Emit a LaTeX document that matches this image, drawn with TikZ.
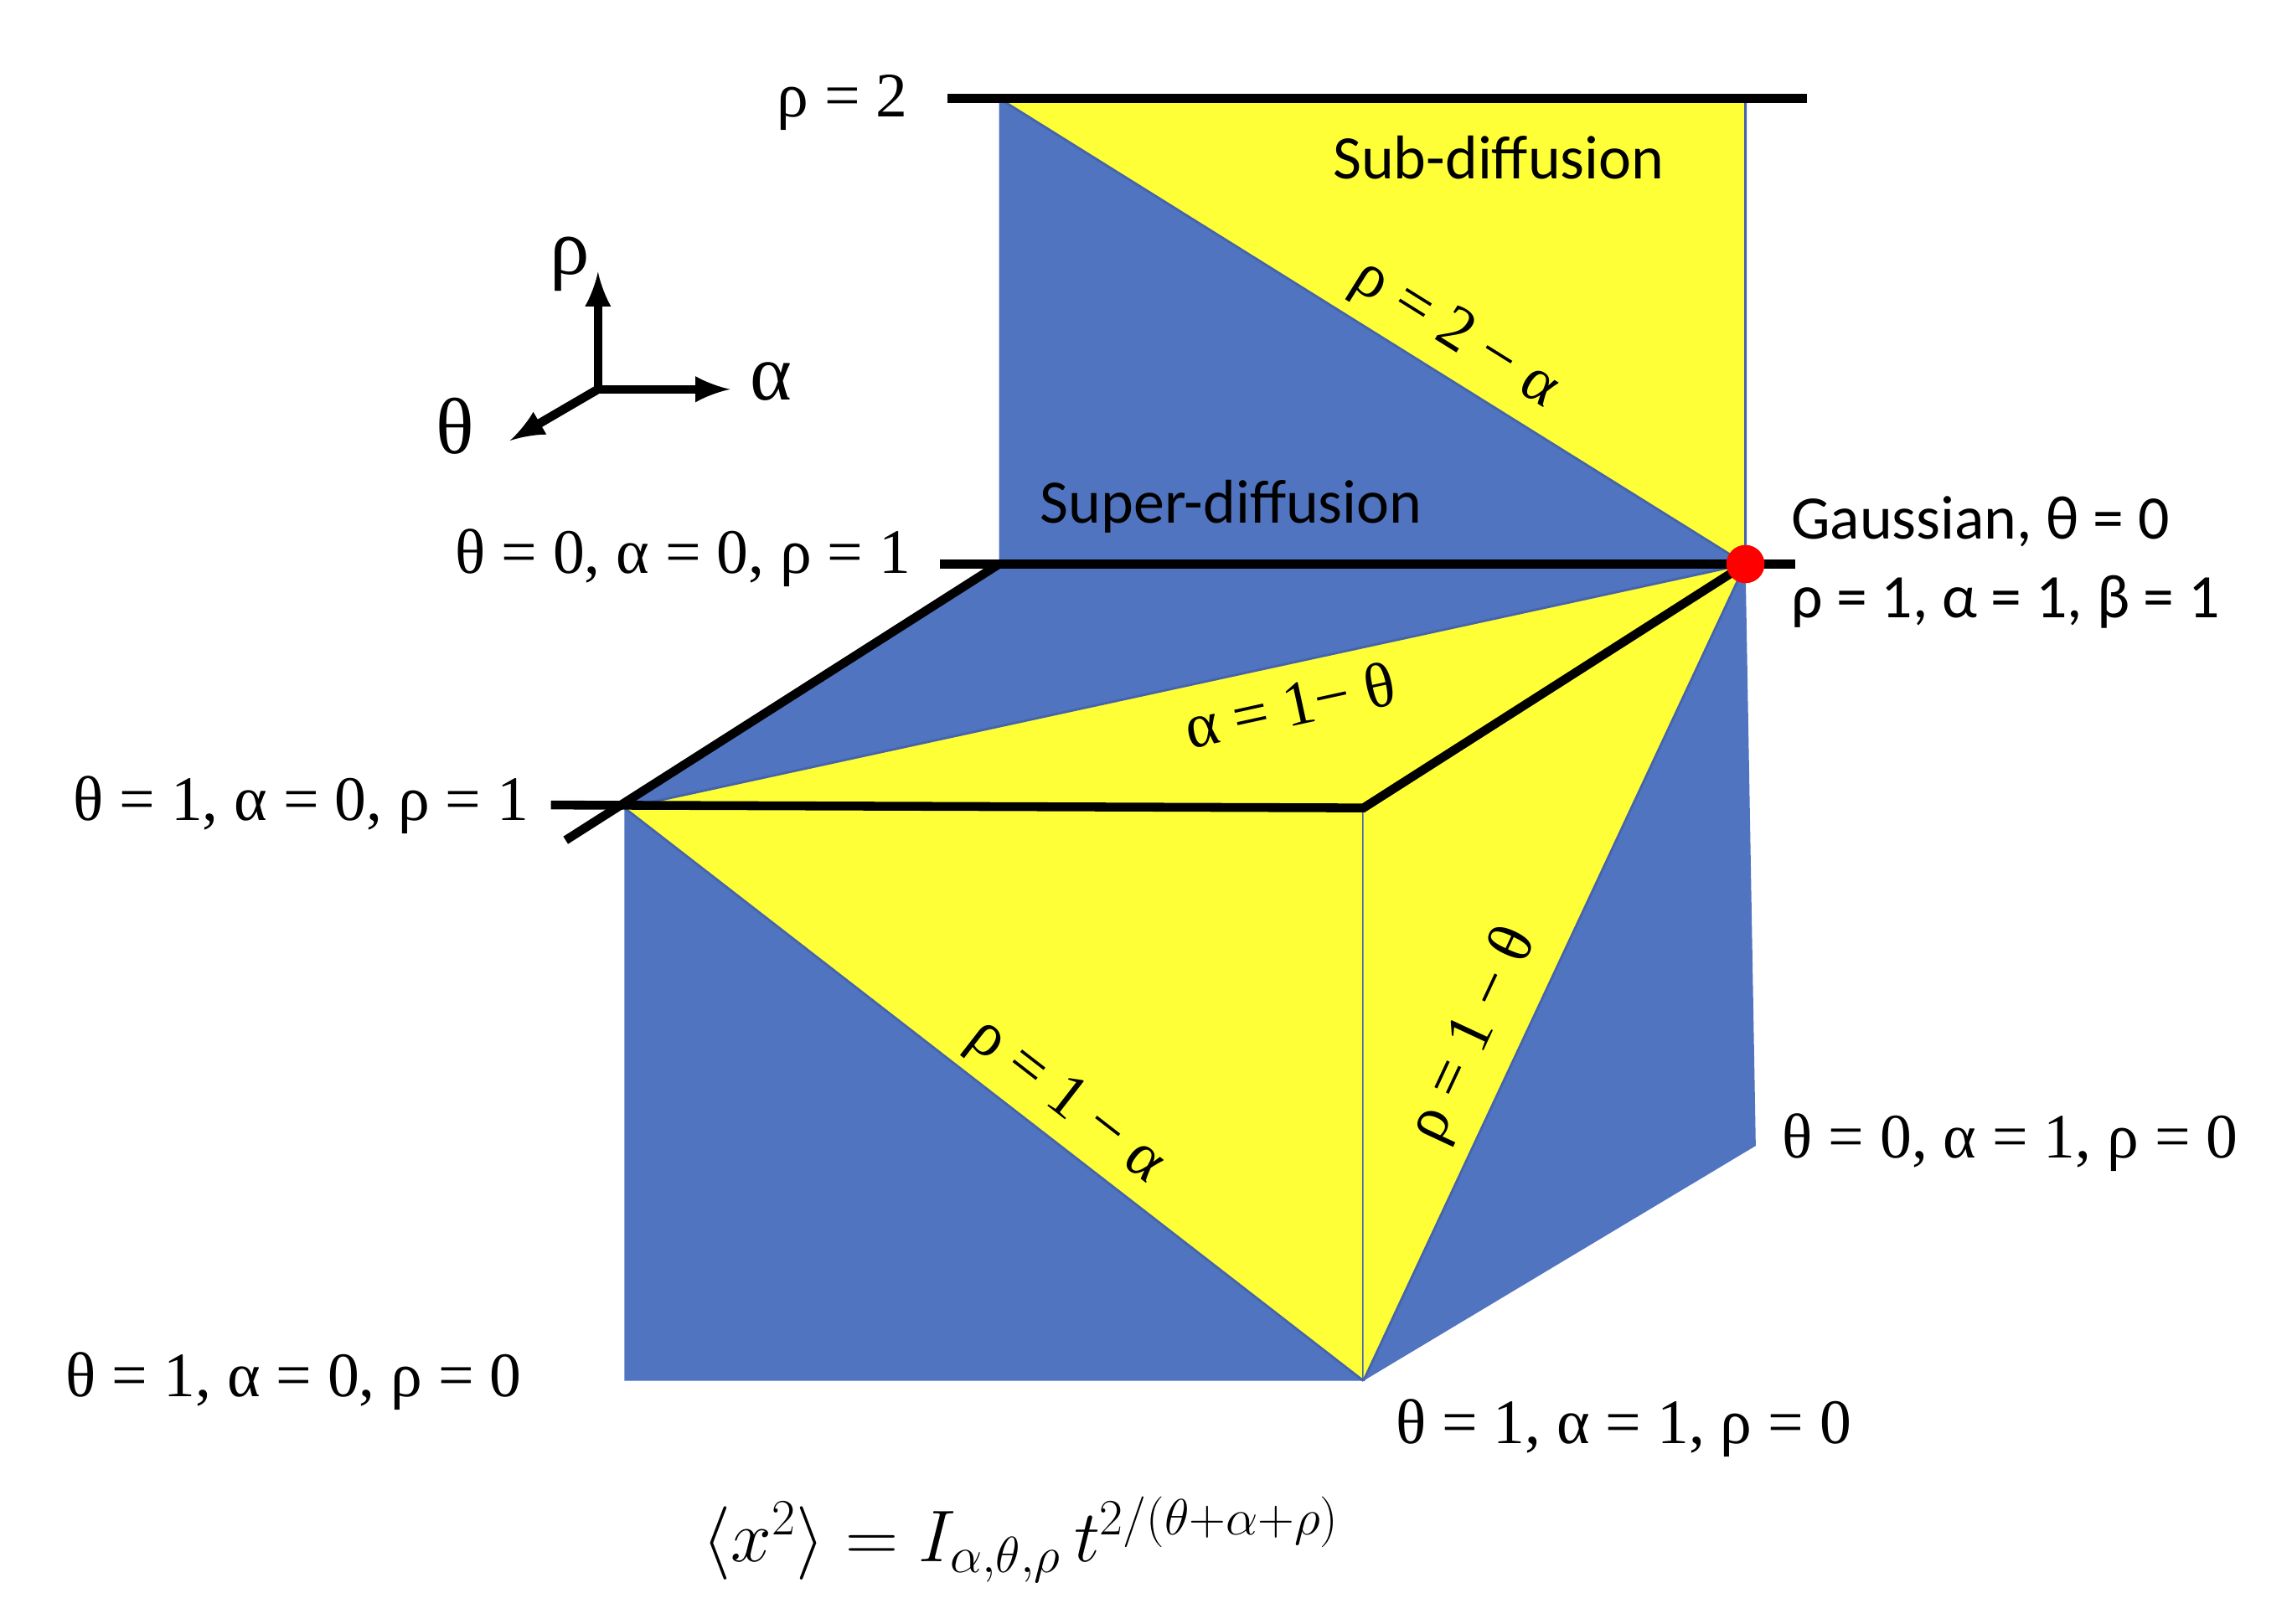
\documentclass[tikz,border=0pt]{standalone}
\usepackage{fontspec}
\setmainfont{Liberation Serif}
\newfontfamily\sansf{Carlito}
\begin{document}
\begin{tikzpicture}[x=0.017538cm,y=-0.017538cm,
  bluef/.style={fill={rgb,255:red,80;green,116;blue,191}},
  yelf/.style={fill={rgb,255:red,255;green,255;blue,56}},
  edge/.style={draw={rgb,255:red,70;green,100;blue,170},line width=0.8pt},
  thick line/.style={line width=3pt,black},
  lab/.style={font=\fontsize{21.5}{25}\selectfont},
  slab/.style={font=\sansf\fontsize{21}{25}\selectfont}]
\useasboundingbox (0,0) rectangle (1560,1105);
\fill[white] (0,0) rectangle (1560,1105);
% upper face
\fill[bluef] (680,67) -- (680,384) -- (1188,384) -- cycle;
\fill[yelf] (680,67) -- (1188,67) -- (1188,384) -- cycle;
\draw[edge] (680,67) -- (1188,384) (1188,67) -- (1188,384);
% middle face
\fill[bluef] (680,384) -- (1188,384) -- (425,550) -- cycle;
\fill[yelf] (425,550) -- (1188,384) -- (928,550) -- cycle;
\draw[edge] (425,550) -- (1188,384);
% front face
\fill[bluef] (425,550) -- (425,940) -- (928,940) -- cycle;
\fill[yelf] (425,550) -- (928,550) -- (928,940) -- cycle;
\draw[edge] (425,550) -- (928,940) (928,550) -- (928,940);
% right face
\fill[yelf] (928,550) -- (1188,384) -- (928,940) -- cycle;
\fill[bluef] (1188,384) -- (1195,780) -- (928,940) -- cycle;
\draw[edge] (1188,384) -- (928,940);
% black lines
\draw[thick line] (645,67) -- (1230,67);
\draw[thick line] (640,384) -- (1222,384);
\draw[thick line] (385,572) -- (680,384);
\draw[thick line] (375,548) -- (928,550) -- (1188,384);
\fill[red] (1188,384) circle (13);
% axes
\coordinate (o) at (407,265);
\draw[thick line,-latex] (o) -- (407,185);
\draw[thick line,-latex] (o) -- (497,265);
\draw[thick line,-latex] (o) -- (347,300);
\node[font=\fontsize{27}{30}\selectfont] (r) at (388,180) {ρ};
\node[font=\fontsize{27}{30}\selectfont] (a) at (525,260) {α};
\node[font=\fontsize{27}{30}\selectfont] (t) at (310,290) {θ};
% labels
\node[lab,anchor=east] (l1) at (625,70) {ρ = 2};
\node[slab] (sub) at (1020,107) {Sub-diffusion};
\node[slab] (sup) at (838,345) {Super-diffusion};
\node[lab,rotate=-32] (d1) at (990,228) {ρ = 2 − α};
\node[lab,rotate=12.3] (d2) at (878,480) {α = 1− θ};
\node[lab,rotate=-37.8] (d3) at (725,750) {ρ = 1 − α};
\node[lab,rotate=65] (d4) at (1003,705) {ρ = 1 − θ};
\node[slab,anchor=west] (g1) at (1212,355) {Gaussian, θ = 0};
\node[slab,anchor=west] (g2) at (1212,410) {ρ = 1, α = 1, β = 1};
\node[lab,anchor=east] (p1) at (627,380) {θ = 0, α = 0, ρ = 1};
\node[lab,anchor=east] (p2) at (367,548) {θ = 1, α = 0, ρ = 1};
\node[lab,anchor=west] (p3) at (1206,778) {θ = 0, α = 1, ρ = 0};
\node[lab] (p4) at (200,940) {θ = 1, α = 0, ρ = 0};
\node[lab] (p5) at (1105,972) {θ = 1, α = 1, ρ = 0};
\node[font=\fontsize{24}{28}\selectfont] (f) at (695,1048) {$\langle x^2\rangle = I_{\alpha,\theta,\rho}\, t^{2/(\theta+\alpha+\rho)}$};
\end{tikzpicture}
\end{document}
